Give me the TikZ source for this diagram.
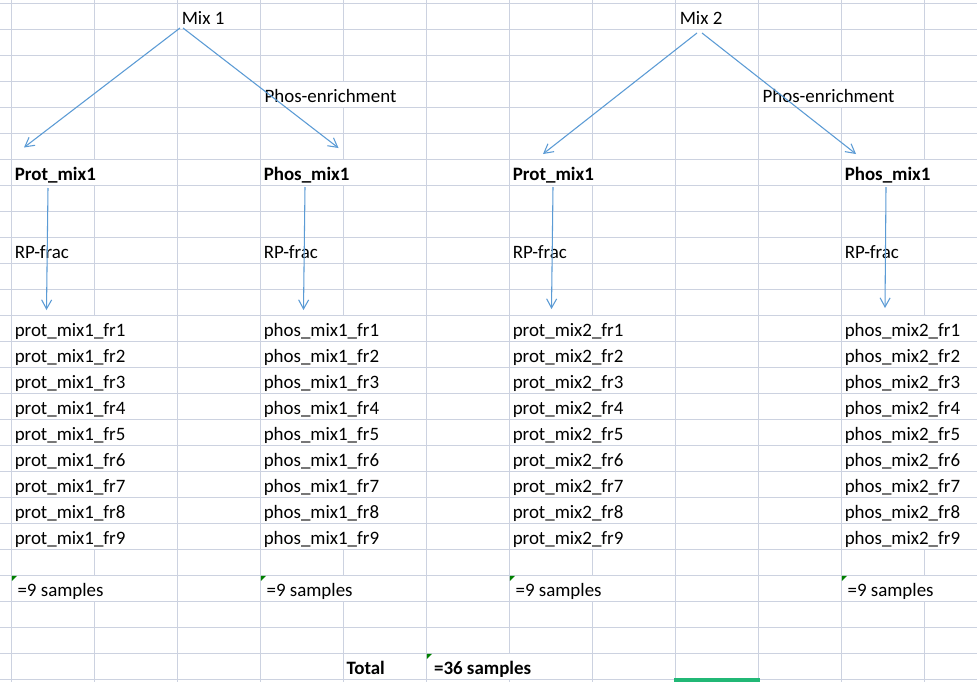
\documentclass[tikz,border=0pt]{standalone}
\usepackage{fontspec}
\setmainfont{Carlito}
\usetikzlibrary{arrows.meta}
\definecolor{gridc}{RGB}{204,210,224}
\definecolor{arrowc}{RGB}{91,155,213}
\definecolor{selgreen}{RGB}{33,184,118}
\definecolor{markgreen}{RGB}{0,128,0}
\tikzset{
  gridline/.style={draw=gridc, line width=0.75pt},
  cellt/.style={anchor=base west, inner sep=0pt, font=\fontsize{14.2}{16}\selectfont},
  cellb/.style={cellt, font=\fontsize{14.2}{16}\selectfont\bfseries},
  conn/.style={draw=arrowc, line width=0.8pt, -{Straight Barb[length=6.8pt,width=7.5pt,line width=0.8pt]}},
  cmark/.style={fill=markgreen},
}
\begin{document}
\begin{tikzpicture}[x=0.75pt,y=-0.75pt]
\useasboundingbox (0,0) rectangle (977,682);
\fill[white] (0,0) rectangle (977,682);
% vertical grid lines
\foreach \k in {0,...,11} \draw[gridline] ({11.3+83*\k},0) -- ({11.3+83*\k},682);
% hide vertical lines where text overflows
\foreach \x/\r in {343.3/3, 841.3/3, 94.3/6, 343.3/6, 592.3/6, 924.3/6, 94.3/22, 343.3/22, 592.3/22, 924.3/22, 509.3/25}
  \fill[white] ({\x-1.5},{3.3+26*\r}) rectangle ({\x+1.5},{3.3+26*(\r+1)});
\foreach \x in {94.3, 343.3, 592.3, 924.3}
  \fill[white] ({\x-1.5},{3.3+26*12}) rectangle ({\x+1.5},{3.3+26*21});
% horizontal grid lines
\foreach \k in {0,...,26} \draw[gridline] (0,{3.3+26*\k}) -- (977,{3.3+26*\k});
% selection marker
\fill[selgreen] (674,678) rectangle (760,682);
% comment markers
\foreach \x/\y in {11.3/575.3, 260.3/575.3, 509.3/575.3, 841.3/575.3, 426.3/653.3}
  \fill[cmark] ({\x+0.6},{\y+0.6}) -- ++(5,0) -- ++(-5,5) -- cycle;
% texts
\node[cellt] (mix1) at (181.5,24.3) {Mix 1};
\node[cellt] (mix2) at (679.5,24.3) {Mix 2};
\node[cellt] (enr1) at (264.3,102.3) {Phos-enrichment};
\node[cellt] (enr2) at (762.3,102.3) {Phos-enrichment};
\node[cellb] (prot1) at (14.5,180.3) {Prot\_mix1};
\node[cellb] (phos1) at (263.5,180.3) {Phos\_mix1};
\node[cellb] (prot2) at (512.5,180.3) {Prot\_mix1};
\node[cellb] (phos2) at (844.5,180.3) {Phos\_mix1};
\node[cellt] (rp1) at (14.5,258.3) {RP-frac};
\node[cellt] (rp2) at (263.5,258.3) {RP-frac};
\node[cellt] (rp3) at (512.5,258.3) {RP-frac};
\node[cellt] (rp4) at (844.5,258.3) {RP-frac};
\foreach \i in {1,...,9} {
  \node[cellt] (pra\i) at (14.5,{336.3+26*(\i-1)}) {prot\_mix1\_fr\i};
  \node[cellt] (pha\i) at (263.5,{336.3+26*(\i-1)}) {phos\_mix1\_fr\i};
  \node[cellt] (prb\i) at (512.5,{336.3+26*(\i-1)}) {prot\_mix2\_fr\i};
  \node[cellt] (phb\i) at (844.5,{336.3+26*(\i-1)}) {phos\_mix2\_fr\i};
}
\node[cellt] (s1) at (17.3,596.3) {=9 samples};
\node[cellt] (s2) at (266.3,596.3) {=9 samples};
\node[cellt] (s3) at (515.3,596.3) {=9 samples};
\node[cellt] (s4) at (847.3,596.3) {=9 samples};
\node[cellb] (total) at (346.3,674.3) {Total};
\node[cellb] (sum) at (433.8,674.3) {=36 samples};
% connector end points
\coordinate (a1s) at (180,28);  \coordinate (a1e) at (24,147.5);
\coordinate (a2s) at (183,28);  \coordinate (a2e) at (338.5,148);
\coordinate (a3s) at (48,188);  \coordinate (a3e) at (46.5,310);
\coordinate (a4s) at (305,187); \coordinate (a4e) at (303.5,310);
\coordinate (b1s) at (697,33);  \coordinate (b1e) at (543,154);
\coordinate (b2s) at (702,33);  \coordinate (b2e) at (856,154);
\coordinate (b3s) at (553,187); \coordinate (b3e) at (551.5,309);
\coordinate (b4s) at (886,187); \coordinate (b4e) at (885,308);
\draw[conn] (a1s) -- (a1e);
\draw[conn] (a2s) -- (a2e);
\draw[conn] (a3s) -- (a3e);
\draw[conn] (a4s) -- (a4e);
\draw[conn] (b1s) -- (b1e);
\draw[conn] (b2s) -- (b2e);
\draw[conn] (b3s) -- (b3e);
\draw[conn] (b4s) -- (b4e);
\end{tikzpicture}
\end{document}
